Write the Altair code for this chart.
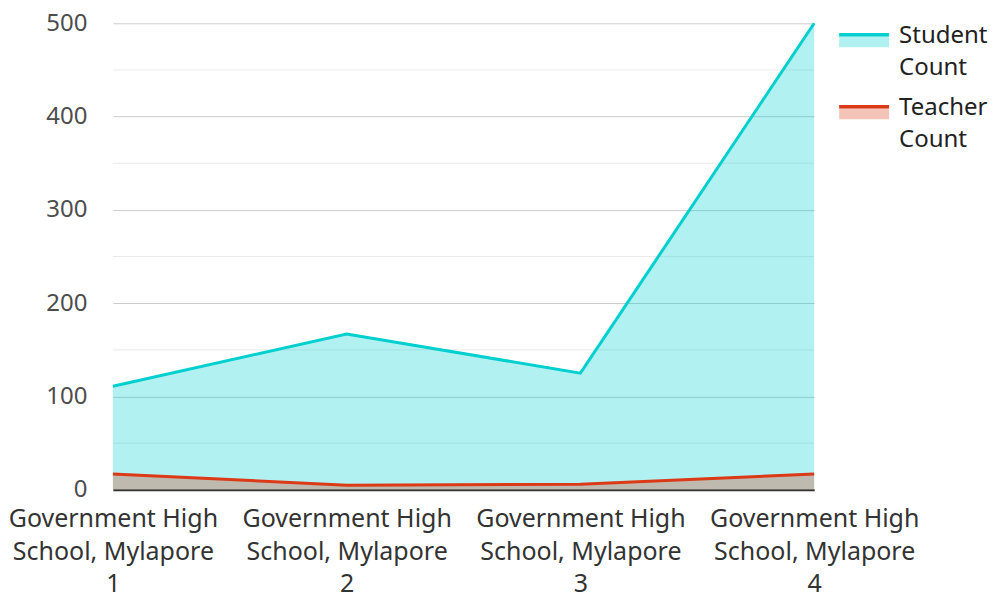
import altair as alt
import pandas as pd

schools = [
    "Government High School, Mylapore 1",
    "Government High School, Mylapore 2",
    "Government High School, Mylapore 3",
    "Government High School, Mylapore 4",
]
student_count = [111, 167, 125, 500]
teacher_count = [17, 5, 6, 17]
series_names = ["Student Count", "Teacher Count"]
series_colors = ["#00CFCF", "#DC3A17"]
major_ticks = [0, 100, 200, 300, 400, 500]
minor_ticks = [50, 150, 250, 350, 450]

rows = []
for s, v in zip(schools, student_count):
    rows.append({"school": s, "series": series_names[0], "value": v})
for s, v in zip(schools, teacher_count):
    rows.append({"school": s, "series": series_names[1], "value": v})
df = pd.DataFrame(rows)
minor_df = pd.DataFrame({"value": minor_ticks})
legend_df = pd.DataFrame({"series": series_names})

FS = 24
label_expr = "[slice(datum.label, 0, 15), slice(datum.label, 16, 32), slice(datum.label, 33)]"
color_scale = alt.Scale(domain=series_names, range=series_colors)

x_enc = alt.X(
    "school:N",
    sort=schools,
    scale=alt.Scale(type="point", padding=0),
    axis=alt.Axis(
        title=None, labelAngle=0, labelExpr=label_expr, ticks=False,
        domainColor="#333333", domainWidth=2, labelFontSize=25, labelLimit=400,
        labelLineHeight=32.5, labelPadding=17, labelColor="#333333", grid=False,
    ),
)
y_scale = alt.Scale(domain=[0, 500], nice=False)
y_enc = alt.Y(
    "value:Q",
    stack=None,
    scale=y_scale,
    axis=alt.Axis(
        title=None, values=major_ticks, grid=True, gridColor="#cccccc",
        gridWidth=1, domain=False, ticks=False, labelFontSize=FS,
        labelColor="#4d4d4d", labelPadding=26,
    ),
)

minor = alt.Chart(minor_df).mark_rule(color="#e9e9e9", strokeWidth=1).encode(
    y=alt.Y("value:Q", scale=y_scale)
)

area = alt.Chart(df).mark_area(fillOpacity=0.3).encode(
    x=x_enc,
    y=y_enc,
    fill=alt.Fill("series:N", scale=color_scale, legend=None),
)

line = alt.Chart(df).mark_line(strokeWidth=3).encode(
    x=x_enc,
    y=y_enc,
    stroke=alt.Stroke("series:N", scale=color_scale, legend=None),
)

# hand-made legend: entries placed by a point scale over the series names
leg_y = alt.Y("series:N", sort=series_names,
              scale=alt.Scale(type="point", padding=0, range=[12, 84]), axis=None)

leg_box = alt.Chart(legend_df).mark_rule(strokeWidth=11, opacity=0.3, yOffset=6.5).encode(
    y=leg_y, x=alt.value(727), x2=alt.value(777),
    color=alt.Color("series:N", scale=color_scale, legend=None),
)
leg_line = alt.Chart(legend_df).mark_rule(strokeWidth=3.5, yOffset=-0.5).encode(
    y=leg_y, x=alt.value(727), x2=alt.value(777),
    color=alt.Color("series:N", scale=color_scale, legend=None),
)
leg_text = alt.Chart(legend_df).mark_text(
    align="left", baseline="top", dy=-11, fontSize=FS, lineHeight=32,
    lineBreak=" ", color="#222222",
).encode(
    y=leg_y, x=alt.value(787), text="series:N",
)

legend_layer = alt.layer(leg_box, leg_line, leg_text)

chart = (
    alt.layer(alt.layer(minor, area, line), legend_layer)
    .resolve_scale(y="independent")
    .properties(width=702, height=467, padding={"left": 0, "top": 3, "right": 0, "bottom": 0})
    .configure(font="Noto Sans")
    .configure_view(stroke=None)
)

chart.save("out.html", embed_options={"renderer": "svg", "actions": False})
